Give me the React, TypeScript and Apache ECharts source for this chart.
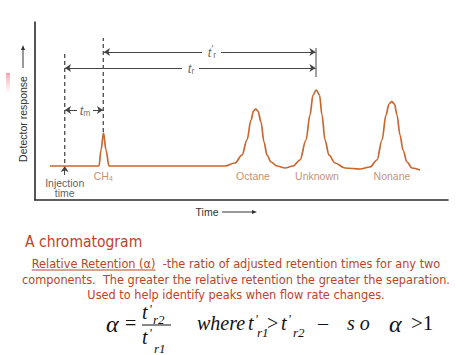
import React, { useEffect, useRef } from "react";
import * as echarts from "echarts";

// Chromatogram trace (time in arbitrary units, detector response in arbitrary units)
const traceTime = [1.5, 6.4, 6.6, 6.85, 7.1, 7.4, 19.0, 20.0, 20.7, 21.2, 21.6, 21.85, 22.07, 22.3, 22.6, 22.9, 23.2, 23.6, 24.2, 25.0, 25.8, 26.5, 27.1, 27.5, 27.8, 28.13, 28.45, 28.7, 29.0, 29.4, 30.0, 31.0, 32.5, 33.5, 34.2, 34.7, 35.1, 35.4, 35.67, 35.95, 36.2, 36.5, 36.8, 37.2, 37.7, 38.5];
const traceResponse = [3.4, 3.4, 5.0, 6.7, 5.0, 3.4, 3.4, 3.7, 4.5, 6.0, 8.0, 8.9, 9.1, 8.9, 7.8, 5.8, 4.5, 3.8, 3.4, 3.2, 3.4, 4.0, 6.0, 8.5, 10.5, 11.0, 10.5, 8.5, 6.0, 4.5, 3.7, 3.2, 3.1, 3.3, 4.0, 6.0, 8.5, 9.6, 9.83, 9.6, 8.5, 6.5, 5.0, 3.8, 3.2, 3.0];

// Peak labels
const peakNames = ["CH{s|4}", "Octane", "Unknown", "Nonane"];
const peakTimes = [6.83, 21.8, 28.2, 35.7];
const peakLabelLevel = 2.4;

// Key times
const injectionTime = 2.97;
const ch4Time = 6.83;
const unknownTime = 28.1;

// Dashed marker lines [from, to]
const injectionDash = [3.7, 14.7];
const ch4Dash = [6.8, 16.2];

// Interval arrows: level, left segment, right segment, label position
const arrowLevels = [14.8, 13.2, 9.0];
const arrowLeftSeg = [[6.9, 16.7], [3.0, 14.7], [3.0, 4.2]];
const arrowRightSeg = [[18.6, 28.05], [16.4, 28.05], [5.8, 6.8]];
const arrowLabelPos = [17.7, 15.6, 5.0];
const arrowLabels = ["{t|t}{p|′}{s|r}", "{t|t}{s|r}", "{t|t}{s|m}"];
const endBar = [12.3, 15.2];

const injArrow = [2.5, 3.4];

// Caption texts
const captionTitle = "A chromatogram";
const underlined = "Relative Retention (α)";
const line2 = "Relative Retention (α)  -the ratio of adjusted retention times for any two";
const line3 = "components.  The greater the relative retention the greater the separation.";
const line4 = "Used to help identify peaks when flow rate changes.";

const ORANGE = "#c8672f";
const LABEL_ORANGE = "#b9714a";
const TEXT_RED = "#bd432a";

export default function App() {
  const ref = useRef<HTMLDivElement>(null);
  useEffect(() => {
    document.body.style.margin = "0";
    const chart = echarts.init(ref.current!, null, { renderer: "svg" });

    const sansFont = "Liberation Sans, Arial, sans-serif";
    const bodyFontName = "DejaVu Sans Condensed";
    const bodyFont = "DejaVu Sans Condensed, DejaVu Sans, sans-serif";
    const bodySize = 12.6;
    const serif = "Liberation Serif, Times New Roman, serif";

    const measure = (text: string, font: string) => {
      const c = document.createElement("canvas").getContext("2d")!;
      c.font = font;
      return c.measureText(text).width;
    };
    const fullW = measure(line2, `${bodySize}px "${bodyFontName}"`);
    const ulW = measure(underlined, `${bodySize}px "${bodyFontName}"`);
    const ulStart = 236 - fullW / 2;

    const dashStyle = { color: "#555", width: 1.4, type: [4, 3] as any };
    const plainLine = (data: number[][], style: any) => ({
      type: "line",
      data,
      showSymbol: false,
      symbol: "none",
      silent: true,
      lineStyle: style,
      z: 3,
    });

    const ftxt = (x: number, y: number, text: string, size: number, italic: boolean, extra: any = {}) => ({
      type: "text",
      x,
      y,
      silent: true,
      style: {
        text,
        fill: "#111",
        fontFamily: serif,
        fontSize: size,
        fontStyle: italic ? "italic" : "normal",
        align: "left",
        verticalAlign: "middle",
        ...extra,
      },
    });

    const arrowLabelRich = {
      t: { fontStyle: "italic", fontSize: 13, color: "#444", fontFamily: sansFont },
      p: { fontSize: 10, color: "#444", padding: [0, 0, 6, 0], fontFamily: sansFont },
      s: { fontSize: 8.5, color: "#444", padding: [5, 0, 0, 0], fontFamily: sansFont },
    };

    const option: any = {
      animation: false,
      backgroundColor: "#fff",
      grid: { left: 35, right: 26, top: 22, bottom: 155 },
      xAxis: {
        type: "value",
        min: 0,
        max: 41.3,
        axisLine: { show: true, onZero: false, lineStyle: { color: "#2b2b2b", width: 1.6 } },
        axisTick: { show: false },
        axisLabel: { show: false },
        splitLine: { show: false },
      },
      yAxis: {
        type: "value",
        min: 0,
        max: 17.8,
        axisLine: { show: true, onZero: false, lineStyle: { color: "#2b2b2b", width: 1.6 } },
        axisTick: { show: false },
        axisLabel: { show: false },
        splitLine: { show: false },
      },
      series: [
        {
          type: "line",
          name: "Detector response",
          data: traceTime.map((t, i) => [t, traceResponse[i]]),
          smooth: 0.35,
          smoothMonotone: "x",
          showSymbol: false,
          symbol: "none",
          lineStyle: { color: ORANGE, width: 1.7 },
          z: 4,
        },
        plainLine([[injectionTime, injectionDash[0]], [injectionTime, injectionDash[1]]], dashStyle),
        plainLine([[ch4Time, ch4Dash[0]], [ch4Time, ch4Dash[1]]], dashStyle),
        plainLine([[unknownTime, endBar[0]], [unknownTime, endBar[1]]], { color: "#444", width: 1 }),
        {
          type: "lines",
          coordinateSystem: "cartesian2d",
          symbol: ["arrow", "none"],
          symbolSize: 6,
          silent: true,
          lineStyle: { color: "#444", width: 1, opacity: 1 },
          data: arrowLevels.map((lv, i) => ({ coords: [[arrowLeftSeg[i][0], lv], [arrowLeftSeg[i][1], lv]] })),
          z: 3,
        },
        {
          type: "lines",
          coordinateSystem: "cartesian2d",
          symbol: ["none", "arrow"],
          symbolSize: 6,
          silent: true,
          lineStyle: { color: "#444", width: 1, opacity: 1 },
          data: [
            ...arrowLevels.map((lv, i) => ({ coords: [[arrowRightSeg[i][0], lv], [arrowRightSeg[i][1], lv]] })),
            { coords: [[injectionTime, injArrow[0]], [injectionTime, injArrow[1]]] },
          ],
          z: 3,
        },
        {
          type: "scatter",
          symbolSize: 0,
          silent: true,
          data: arrowLevels.map((lv, i) => ({ value: [arrowLabelPos[i], lv], name: arrowLabels[i] })),
          label: {
            show: true,
            position: "inside",
            formatter: (p: any) => p.name,
            rich: arrowLabelRich,
          },
          z: 5,
        },
        {
          type: "scatter",
          symbolSize: 0,
          silent: true,
          data: peakNames.map((n, i) => ({ value: [peakTimes[i], peakLabelLevel], name: n })),
          label: {
            show: true,
            position: "inside",
            formatter: (p: any) => p.name,
            color: LABEL_ORANGE,
            fontSize: 10.5,
            fontFamily: sansFont,
            rich: { s: { fontSize: 7, color: LABEL_ORANGE, padding: [5, 0, 0, 0], fontFamily: sansFont } },
          },
          z: 5,
        },
        {
          type: "scatter",
          symbolSize: 0,
          silent: true,
          data: [{ value: [injectionTime, 1.2], name: "Injection\ntime" }],
          label: {
            show: true,
            position: "inside",
            formatter: (p: any) => p.name,
            color: "#333",
            fontSize: 10.5,
            lineHeight: 10.5,
            fontFamily: sansFont,
            align: "center",
          },
          z: 5,
        },
      ],
      graphic: [
        // faint pink mark at left edge
        {
          type: "rect",
          silent: true,
          shape: { x: 6, y: 73, width: 4, height: 19 },
          style: {
            fill: new echarts.graphic.LinearGradient(0, 0, 0, 1, [
              { offset: 0, color: "rgba(235,120,140,0.7)" },
              { offset: 1, color: "rgba(250,200,210,0.15)" },
            ]),
          },
        },
        // Y axis title
        {
          type: "text",
          x: 23,
          y: 119,
          rotation: Math.PI / 2,
          silent: true,
          style: {
            text: "Detector response",
            fill: "#333",
            fontFamily: sansFont,
            fontSize: 10.5,
            align: "center",
            verticalAlign: "middle",
          },
        },
        { type: "line", silent: true, shape: { x1: 23, y1: 68, x2: 23, y2: 49 }, style: { stroke: "#333", lineWidth: 1 } },
        { type: "polygon", silent: true, shape: { points: [[23, 45], [21, 50], [25, 50]] }, style: { fill: "#333" } },
        // X axis title
        {
          type: "text",
          x: 207,
          y: 212,
          silent: true,
          style: { text: "Time", fill: "#333", fontFamily: sansFont, fontSize: 10.5, align: "center", verticalAlign: "middle" },
        },
        { type: "line", silent: true, shape: { x1: 222, y1: 212, x2: 253, y2: 212 }, style: { stroke: "#333", lineWidth: 1 } },
        { type: "polygon", silent: true, shape: { points: [[257, 212], [252, 210], [252, 214]] }, style: { fill: "#333" } },
        // Caption
        {
          type: "text",
          x: 25,
          y: 242,
          silent: true,
          style: { text: captionTitle, fill: TEXT_RED, fontFamily: bodyFont, fontSize: 15.5, align: "left", verticalAlign: "middle" },
        },
        {
          type: "text",
          x: 236,
          y: 263,
          silent: true,
          style: { text: line2, fill: TEXT_RED, fontFamily: bodyFont, fontSize: bodySize, align: "center", verticalAlign: "middle" },
        },
        {
          type: "line",
          silent: true,
          shape: { x1: ulStart, y1: 270, x2: ulStart + ulW, y2: 270 },
          style: { stroke: TEXT_RED, lineWidth: 1 },
        },
        {
          type: "text",
          x: 236,
          y: 279.5,
          silent: true,
          style: { text: line3, fill: TEXT_RED, fontFamily: bodyFont, fontSize: bodySize, align: "center", verticalAlign: "middle" },
        },
        {
          type: "text",
          x: 236,
          y: 294,
          silent: true,
          style: { text: line4, fill: TEXT_RED, fontFamily: bodyFont, fontSize: bodySize, align: "center", verticalAlign: "middle" },
        },
        // Formula
        ftxt(106, 324, "α", 24, true),
        ftxt(125, 323, "=", 20, false),
        ftxt(142, 312, "t", 20, true),
        ftxt(149, 308, "'", 13, true),
        ftxt(153, 319, "r2", 13, true),
        { type: "line", silent: true, shape: { x1: 142, y1: 325, x2: 171, y2: 325 }, style: { stroke: "#111", lineWidth: 1 } },
        ftxt(142, 337, "t", 20, true),
        ftxt(149, 332, "'", 13, true),
        ftxt(154, 348, "r1", 13, true),
        ftxt(197, 323, "where", 20, true),
        ftxt(248, 323, "t", 20, true),
        ftxt(255, 318, "'", 13, true),
        ftxt(257, 332, "r1", 13, true),
        ftxt(267, 323, ">", 20, false),
        ftxt(281, 323, "t", 20, true),
        ftxt(288, 318, "'", 13, true),
        ftxt(293, 332, "r2", 13, true),
        ftxt(318, 323, "–", 20, false),
        ftxt(347, 323, "s o", 20, true),
        ftxt(389, 324, "α", 24, true),
        ftxt(411, 323, ">1", 21, false),
      ],
    };
    chart.setOption(option);
    return () => chart.dispose();
  }, []);
  return <div ref={ref} style={{ position: "absolute", left: 0, top: 0, width: 474, height: 355 }} />;
}
